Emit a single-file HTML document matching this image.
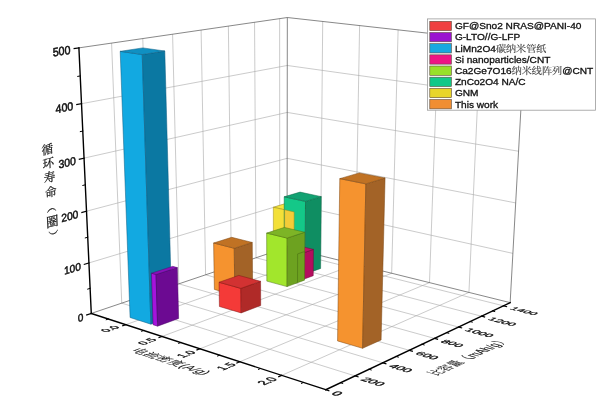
<!DOCTYPE html>
<html><head><meta charset="utf-8"><title>3D bar chart</title>
<style>
html,body{margin:0;padding:0;background:#fff;}
svg{display:block;}
</style></head><body>
<svg width="600" height="404" viewBox="0 0 600 404">
<rect width="600" height="404" fill="#fff"/>
<g id="grid" fill="none">
<line x1="121.74" y1="303.14" x2="111.59" y2="43.11" stroke="#a8a8a8" stroke-width="0.6"/>
<line x1="150.9" y1="293.29" x2="142.79" y2="38.57" stroke="#a8a8a8" stroke-width="0.6"/>
<line x1="178.83" y1="283.85" x2="172.59" y2="34.23" stroke="#a8a8a8" stroke-width="0.6"/>
<line x1="205.62" y1="274.8" x2="201.1" y2="30.08" stroke="#a8a8a8" stroke-width="0.6"/>
<line x1="231.33" y1="266.12" x2="228.39" y2="26.1" stroke="#a8a8a8" stroke-width="0.6"/>
<line x1="256.02" y1="257.77" x2="254.55" y2="22.29" stroke="#a8a8a8" stroke-width="0.6"/>
<line x1="279.76" y1="249.76" x2="279.63" y2="18.64" stroke="#a8a8a8" stroke-width="0.6"/>
<line x1="88.93" y1="262.94" x2="287.11" y2="203.28" stroke="#a8a8a8" stroke-width="0.6"/>
<line x1="86.52" y1="211.19" x2="287.16" y2="158.33" stroke="#a8a8a8" stroke-width="0.6"/>
<line x1="84.05" y1="158.13" x2="287.22" y2="112.41" stroke="#a8a8a8" stroke-width="0.6"/>
<line x1="81.51" y1="103.71" x2="287.27" y2="65.48" stroke="#a8a8a8" stroke-width="0.6"/>
<line x1="320.53" y1="255.6" x2="322.71" y2="21.46" stroke="#a8a8a8" stroke-width="0.6"/>
<line x1="355.37" y1="264.24" x2="359.6" y2="25.57" stroke="#a8a8a8" stroke-width="0.6"/>
<line x1="391.66" y1="273.24" x2="398.12" y2="29.86" stroke="#a8a8a8" stroke-width="0.6"/>
<line x1="429.49" y1="282.63" x2="438.36" y2="34.35" stroke="#a8a8a8" stroke-width="0.6"/>
<line x1="468.95" y1="292.42" x2="480.46" y2="39.04" stroke="#a8a8a8" stroke-width="0.6"/>
<line x1="287.11" y1="203.28" x2="512.89" y2="253.39" stroke="#a8a8a8" stroke-width="0.6"/>
<line x1="287.16" y1="158.33" x2="515.69" y2="202.93" stroke="#a8a8a8" stroke-width="0.6"/>
<line x1="287.22" y1="112.41" x2="518.57" y2="151.24" stroke="#a8a8a8" stroke-width="0.6"/>
<line x1="287.27" y1="65.48" x2="521.51" y2="98.26" stroke="#a8a8a8" stroke-width="0.6"/>
<line x1="125.82" y1="324.67" x2="320.53" y2="255.6" stroke="#a8a8a8" stroke-width="0.6"/>
<line x1="162.01" y1="336.44" x2="355.37" y2="264.24" stroke="#a8a8a8" stroke-width="0.6"/>
<line x1="199.96" y1="348.79" x2="391.66" y2="273.24" stroke="#a8a8a8" stroke-width="0.6"/>
<line x1="239.8" y1="361.75" x2="429.49" y2="282.63" stroke="#a8a8a8" stroke-width="0.6"/>
<line x1="281.69" y1="375.38" x2="468.95" y2="292.42" stroke="#a8a8a8" stroke-width="0.6"/>
<line x1="121.74" y1="303.14" x2="355.01" y2="375.92" stroke="#a8a8a8" stroke-width="0.6"/>
<line x1="150.9" y1="293.29" x2="382.79" y2="362.8" stroke="#a8a8a8" stroke-width="0.6"/>
<line x1="178.83" y1="283.85" x2="409.24" y2="350.3" stroke="#a8a8a8" stroke-width="0.6"/>
<line x1="205.62" y1="274.8" x2="434.45" y2="338.4" stroke="#a8a8a8" stroke-width="0.6"/>
<line x1="231.33" y1="266.12" x2="458.5" y2="327.04" stroke="#a8a8a8" stroke-width="0.6"/>
<line x1="256.02" y1="257.77" x2="481.46" y2="316.19" stroke="#a8a8a8" stroke-width="0.6"/>
<line x1="279.76" y1="249.76" x2="503.43" y2="305.82" stroke="#a8a8a8" stroke-width="0.6"/>
</g>
<g id="walls" fill="none">
<line x1="78.91" y1="47.87" x2="287.33" y2="17.52" stroke="#555" stroke-width="0.7"/>
<line x1="287.33" y1="17.52" x2="524.53" y2="43.95" stroke="#555" stroke-width="0.7"/>
<line x1="524.53" y1="43.95" x2="510.15" y2="302.64" stroke="#555" stroke-width="0.7"/>
<line x1="287.33" y1="17.52" x2="287.05" y2="247.29" stroke="#555" stroke-width="0.7"/>
<line x1="91.28" y1="313.43" x2="287.05" y2="247.29" stroke="#555" stroke-width="0.7"/>
<line x1="287.05" y1="247.29" x2="510.15" y2="302.64" stroke="#555" stroke-width="0.7"/>
</g>
<g id="bars">
<g id="blue">
<polygon points="130.08,317.52 150.89,324.18 142.24,54.56 120.19,51.34" fill="#12a9e1" stroke="#0a5a80" stroke-width="0.5" stroke-linejoin="round"/>
<polygon points="150.89,324.18 171.95,316.58 164.8,51 142.24,54.56" fill="#0b78a2" stroke="#0a5a80" stroke-width="0.5" stroke-linejoin="round"/>
<polygon points="120.19,51.34 142.24,54.56 164.8,51 142.81,47.88" fill="#1090c2" stroke="#0a5a80" stroke-width="0.5" stroke-linejoin="round"/>
</g>
<g id="purple">
<polygon points="153.05,324.72 157.6,326.17 156.02,274.51 151.43,273.19" fill="#a514dc" stroke="#4a0666" stroke-width="0.5" stroke-linejoin="round"/>
<polygon points="157.6,326.17 178.63,318.51 177.35,267.58 156.02,274.51" fill="#6c0a92" stroke="#4a0666" stroke-width="0.5" stroke-linejoin="round"/>
<polygon points="151.43,273.19 156.02,274.51 177.35,267.58 172.76,266.3" fill="#8a10b8" stroke="#4a0666" stroke-width="0.4" stroke-linejoin="round"/>
</g>
<g id="orange1">
<polygon points="214.38,289.42 234.81,295.26 234.27,248.29 213.61,242.99" fill="#f5932f" stroke="#7a4410" stroke-width="0.5" stroke-linejoin="round"/>
<polygon points="234.81,295.26 252.61,288.81 252.28,242.45 234.27,248.29" fill="#a36327" stroke="#7a4410" stroke-width="0.5" stroke-linejoin="round"/>
<polygon points="213.61,242.99 234.27,248.29 252.28,242.45 231.69,237.3" fill="#c07224" stroke="#7a4410" stroke-width="0.5" stroke-linejoin="round"/>
</g>
<g id="red">
<polygon points="219.42,306.49 241.15,312.91 240.9,288.38 219.05,282.26" fill="#f43a38" stroke="#801616" stroke-width="0.5" stroke-linejoin="round"/>
<polygon points="241.15,312.91 260.7,305.51 260.58,281.33 240.9,288.38" fill="#b02a28" stroke="#801616" stroke-width="0.5" stroke-linejoin="round"/>
<polygon points="219.05,282.26 240.9,288.38 260.58,281.33 238.81,275.39" fill="#d23232" stroke="#801616" stroke-width="0.5" stroke-linejoin="round"/>
</g>
<g id="yellow">
<polygon points="273.34,207.22 294.14,211.93 311.86,206.43 291.15,201.86" fill="#f5e440" stroke="#9a8a18" stroke-width="0.5" stroke-linejoin="round"/>
<polygon points="273.46,266.63 284.58,269.54 284.62,209.77 273.34,207.22" fill="#f3e038" stroke="#9a8a18" stroke-width="0.5" stroke-linejoin="round"/>
</g>
<g id="teal">
<polygon points="284.17,268.67 305.12,274.14 305.52,201.43 284.21,196.78" fill="#14c888" stroke="#0a6444" stroke-width="0.5" stroke-linejoin="round"/>
<polygon points="305.12,274.14 320.62,268.47 321.29,196.64 305.52,201.43" fill="#0f8e62" stroke="#0a6444" stroke-width="0.5" stroke-linejoin="round"/>
<polygon points="284.21,196.78 305.52,201.43 321.29,196.64 300.06,192.1" fill="#12a272" stroke="#0a6444" stroke-width="0.5" stroke-linejoin="round"/>
</g>
<g id="yellow2">
<polygon points="284.58,269.54 293.97,272 294.14,211.93 284.62,209.77" fill="#f3cc38" stroke="#9a8a18" stroke-width="0.5" stroke-linejoin="round"/>
</g>
<g id="magenta">
<polygon points="276.25,276.28 296.83,281.77 296.92,255.15 276.21,249.94" fill="#ee1484" stroke="#700838" stroke-width="0.5" stroke-linejoin="round"/>
<polygon points="296.83,281.77 313.24,275.71 313.44,249.41 296.92,255.15" fill="#b40e5e" stroke="#700838" stroke-width="0.5" stroke-linejoin="round"/>
<polygon points="276.21,249.94 296.92,255.15 313.44,249.41 292.81,244.35" fill="#c41268" stroke="#700838" stroke-width="0.5" stroke-linejoin="round"/>
</g>
<g id="lgreen">
<polygon points="266.82,281.12 287.08,286.62 287.14,238.07 266.64,233.09" fill="#a2e62c" stroke="#4a7012" stroke-width="0.5" stroke-linejoin="round"/>
<polygon points="287.08,286.62 304.52,280.16 304.78,232.24 287.14,238.07" fill="#6da220" stroke="#4a7012" stroke-width="0.5" stroke-linejoin="round"/>
<polygon points="266.64,233.09 287.14,238.07 304.78,232.24 284.37,227.41" fill="#7db426" stroke="#4a7012" stroke-width="0.5" stroke-linejoin="round"/>
<polyline points="297.5,282.76 297.6,253.94 304.68,251.49" fill="none" stroke="#4a7012" stroke-width="0.6"/>
</g>
<g id="orange2">
<polygon points="337.56,340.93 362.58,348.31 365.85,183.88 339.77,178.64" fill="#f5932f" stroke="#7a4410" stroke-width="0.5" stroke-linejoin="round"/>
<polygon points="362.58,348.31 381.12,339.96 385.07,178.02 365.85,183.88" fill="#a36327" stroke="#7a4410" stroke-width="0.5" stroke-linejoin="round"/>
<polygon points="339.77,178.64 365.85,183.88 385.07,178.02 359.16,172.95" fill="#c07224" stroke="#7a4410" stroke-width="0.5" stroke-linejoin="round"/>
</g>
</g>
<g id="axes" fill="none" stroke-linecap="square">
<line x1="91.28" y1="313.43" x2="325.79" y2="389.72" stroke="#000" stroke-width="1.4"/>
<line x1="325.79" y1="389.72" x2="510.15" y2="302.64" stroke="#000" stroke-width="1.4"/>
<line x1="91.28" y1="313.43" x2="78.91" y2="47.87" stroke="#000" stroke-width="1.4"/>
<line x1="108.35" y1="318.99" x2="106.27" y2="319.71" stroke="#000" stroke-width="1.0"/>
<line x1="125.82" y1="324.67" x2="122.8" y2="325.74" stroke="#000" stroke-width="1.2"/>
<line x1="143.7" y1="330.49" x2="141.63" y2="331.24" stroke="#000" stroke-width="1.0"/>
<line x1="162.01" y1="336.44" x2="159.01" y2="337.56" stroke="#000" stroke-width="1.2"/>
<line x1="180.75" y1="342.54" x2="178.7" y2="343.33" stroke="#000" stroke-width="1.0"/>
<line x1="199.96" y1="348.79" x2="196.98" y2="349.96" stroke="#000" stroke-width="1.2"/>
<line x1="219.63" y1="355.19" x2="217.59" y2="356.01" stroke="#000" stroke-width="1.0"/>
<line x1="239.8" y1="361.75" x2="236.85" y2="362.98" stroke="#000" stroke-width="1.2"/>
<line x1="260.48" y1="368.48" x2="258.46" y2="369.35" stroke="#000" stroke-width="1.0"/>
<line x1="281.69" y1="375.38" x2="278.77" y2="376.67" stroke="#000" stroke-width="1.2"/>
<line x1="303.45" y1="382.46" x2="301.45" y2="383.37" stroke="#000" stroke-width="1.0"/>
<line x1="325.79" y1="389.72" x2="328.83" y2="390.71" stroke="#000" stroke-width="1.2"/>
<line x1="340.58" y1="382.73" x2="342.68" y2="383.4" stroke="#000" stroke-width="1.0"/>
<line x1="355.01" y1="375.92" x2="358.06" y2="376.87" stroke="#000" stroke-width="1.2"/>
<line x1="369.08" y1="369.28" x2="371.18" y2="369.92" stroke="#000" stroke-width="1.0"/>
<line x1="382.79" y1="362.8" x2="385.86" y2="363.71" stroke="#000" stroke-width="1.2"/>
<line x1="396.18" y1="356.47" x2="398.29" y2="357.09" stroke="#000" stroke-width="1.0"/>
<line x1="409.24" y1="350.3" x2="412.32" y2="351.19" stroke="#000" stroke-width="1.2"/>
<line x1="421.99" y1="344.28" x2="424.11" y2="344.88" stroke="#000" stroke-width="1.0"/>
<line x1="434.45" y1="338.4" x2="437.53" y2="339.26" stroke="#000" stroke-width="1.2"/>
<line x1="446.61" y1="332.65" x2="448.73" y2="333.23" stroke="#000" stroke-width="1.0"/>
<line x1="458.5" y1="327.04" x2="461.59" y2="327.87" stroke="#000" stroke-width="1.2"/>
<line x1="470.11" y1="321.56" x2="472.24" y2="322.12" stroke="#000" stroke-width="1.0"/>
<line x1="481.46" y1="316.19" x2="484.56" y2="317" stroke="#000" stroke-width="1.2"/>
<line x1="492.57" y1="310.95" x2="494.7" y2="311.49" stroke="#000" stroke-width="1.0"/>
<line x1="503.43" y1="305.82" x2="506.53" y2="306.6" stroke="#000" stroke-width="1.2"/>
<line x1="91.28" y1="313.43" x2="86.73" y2="314.97" stroke="#000" stroke-width="1.2"/>
<line x1="90.11" y1="288.34" x2="87.73" y2="289.1" stroke="#000" stroke-width="1.0"/>
<line x1="88.93" y1="262.94" x2="84.33" y2="264.32" stroke="#000" stroke-width="1.2"/>
<line x1="87.73" y1="237.23" x2="85.32" y2="237.9" stroke="#000" stroke-width="1.0"/>
<line x1="86.52" y1="211.19" x2="81.88" y2="212.41" stroke="#000" stroke-width="1.2"/>
<line x1="85.29" y1="184.82" x2="82.86" y2="185.42" stroke="#000" stroke-width="1.0"/>
<line x1="84.05" y1="158.13" x2="79.36" y2="159.18" stroke="#000" stroke-width="1.2"/>
<line x1="82.79" y1="131.09" x2="80.34" y2="131.59" stroke="#000" stroke-width="1.0"/>
<line x1="81.51" y1="103.71" x2="76.79" y2="104.58" stroke="#000" stroke-width="1.2"/>
<line x1="80.22" y1="75.97" x2="77.75" y2="76.38" stroke="#000" stroke-width="1.0"/>
<line x1="78.91" y1="47.87" x2="74.16" y2="48.57" stroke="#000" stroke-width="1.2"/>
</g>
<g id="labels">
<text transform="matrix(1.0117,-0.3589,0.9437,0.3070,110.00,329.00)" font-family="'Liberation Sans',sans-serif" font-size="10" text-anchor="middle" y="3.50" fill="#111" stroke="#111" stroke-width="0.45">0.0</text>
<text transform="matrix(1.0081,-0.3764,0.9891,0.3218,147.00,341.40)" font-family="'Liberation Sans',sans-serif" font-size="10" text-anchor="middle" y="3.50" fill="#111" stroke="#111" stroke-width="0.45">0.5</text>
<text transform="matrix(1.0030,-0.3952,1.0380,0.3377,186.00,354.00)" font-family="'Liberation Sans',sans-serif" font-size="10" text-anchor="middle" y="3.50" fill="#111" stroke="#111" stroke-width="0.45">1.0</text>
<text transform="matrix(0.9962,-0.4155,1.0905,0.3548,226.00,366.40)" font-family="'Liberation Sans',sans-serif" font-size="10" text-anchor="middle" y="3.50" fill="#111" stroke="#111" stroke-width="0.45">1.5</text>
<text transform="matrix(0.9873,-0.4374,1.1471,0.3732,267.00,381.00)" font-family="'Liberation Sans',sans-serif" font-size="10" text-anchor="middle" y="3.50" fill="#111" stroke="#111" stroke-width="0.45">2.0</text>
<text transform="matrix(1.2083,0.3931,-0.9760,0.4610,333.89,392.40)" font-family="'Liberation Sans',sans-serif" font-size="10" text-anchor="start" y="3.50" fill="#111" stroke="#111" stroke-width="0.45">0</text>
<text transform="matrix(1.1978,0.3737,-0.9273,0.4380,363.15,378.50)" font-family="'Liberation Sans',sans-serif" font-size="10" text-anchor="start" y="3.50" fill="#111" stroke="#111" stroke-width="0.45">200</text>
<text transform="matrix(1.1868,0.3557,-0.8822,0.4167,390.96,365.29)" font-family="'Liberation Sans',sans-serif" font-size="10" text-anchor="start" y="3.50" fill="#111" stroke="#111" stroke-width="0.45">400</text>
<text transform="matrix(1.1755,0.3390,-0.8402,0.3969,417.43,352.72)" font-family="'Liberation Sans',sans-serif" font-size="10" text-anchor="start" y="3.50" fill="#111" stroke="#111" stroke-width="0.45">600</text>
<text transform="matrix(1.1639,0.3235,-0.8012,0.3784,442.65,340.74)" font-family="'Liberation Sans',sans-serif" font-size="10" text-anchor="start" y="3.50" fill="#111" stroke="#111" stroke-width="0.45">800</text>
<text transform="matrix(1.1522,0.3090,-0.7649,0.3613,466.72,329.31)" font-family="'Liberation Sans',sans-serif" font-size="10" text-anchor="start" y="3.50" fill="#111" stroke="#111" stroke-width="0.45">1000</text>
<text transform="matrix(1.1403,0.2955,-0.7309,0.3452,489.71,318.40)" font-family="'Liberation Sans',sans-serif" font-size="10" text-anchor="start" y="3.50" fill="#111" stroke="#111" stroke-width="0.45">1200</text>
<text transform="matrix(1.1283,0.2828,-0.6992,0.3303,511.69,307.96)" font-family="'Liberation Sans',sans-serif" font-size="10" text-anchor="start" y="3.50" fill="#111" stroke="#111" stroke-width="0.45">1400</text>
<text transform="matrix(0.9911,-0.3348,0.0489,1.0503,83.23,316.75)" font-family="'Liberation Sans',sans-serif" font-size="10" text-anchor="end" y="3.50" fill="#111" stroke="#111" stroke-width="0.45">0</text>
<text transform="matrix(1.0050,-0.3026,0.0501,1.0764,80.79,265.99)" font-family="'Liberation Sans',sans-serif" font-size="10" text-anchor="end" y="3.50" fill="#111" stroke="#111" stroke-width="0.45">100</text>
<text transform="matrix(1.0193,-0.2685,0.0514,1.1034,78.30,213.95)" font-family="'Liberation Sans',sans-serif" font-size="10" text-anchor="end" y="3.50" fill="#111" stroke="#111" stroke-width="0.45">200</text>
<text transform="matrix(1.0340,-0.2327,0.0527,1.1315,75.75,160.59)" font-family="'Liberation Sans',sans-serif" font-size="10" text-anchor="end" y="3.50" fill="#111" stroke="#111" stroke-width="0.45">300</text>
<text transform="matrix(1.0492,-0.1949,0.0541,1.1607,73.15,105.86)" font-family="'Liberation Sans',sans-serif" font-size="10" text-anchor="end" y="3.50" fill="#111" stroke="#111" stroke-width="0.45">400</text>
<text transform="matrix(1.0648,-0.1551,0.0555,1.1910,70.50,49.70)" font-family="'Liberation Sans',sans-serif" font-size="10" text-anchor="end" y="3.50" fill="#111" stroke="#111" stroke-width="0.45">500</text>
<text transform="matrix(1.2008,0.3907,-1.1985,0.4571,171.00,361.50)" font-family="'Liberation Serif','Noto Serif CJK SC',serif" font-size="10" text-anchor="middle" y="3.50" fill="#111" stroke="#222" stroke-width="0.12">电流密度<tspan font-family="'Liberation Sans',sans-serif">(A/g)</tspan></text>
<text transform="matrix(0.9532,-0.4502,1.3859,0.3849,469.00,357.00)" font-family="'Liberation Serif','Noto Serif CJK SC',serif" font-size="10" text-anchor="middle" y="3.50" fill="#111" stroke="#222" stroke-width="0.12">比容量（<tspan font-family="'Liberation Sans',sans-serif">mAh/g</tspan>）</text>
<text transform="matrix(1.1564,-0.2826,0.0563,1.2079,47.30,149.50)" font-family="'Liberation Serif','Noto Serif CJK SC',serif" font-size="10" text-anchor="middle" y="3.50" fill="#111" stroke="#222" stroke-width="0.2">循</text>
<text transform="matrix(1.1564,-0.2826,0.0563,1.2079,48.40,163.40)" font-family="'Liberation Serif','Noto Serif CJK SC',serif" font-size="10" text-anchor="middle" y="3.50" fill="#111" stroke="#222" stroke-width="0.2">环</text>
<text transform="matrix(1.1564,-0.2826,0.0563,1.2079,49.50,177.30)" font-family="'Liberation Serif','Noto Serif CJK SC',serif" font-size="10" text-anchor="middle" y="3.50" fill="#111" stroke="#222" stroke-width="0.2">寿</text>
<text transform="matrix(1.1564,-0.2826,0.0563,1.2079,50.70,192.00)" font-family="'Liberation Serif','Noto Serif CJK SC',serif" font-size="10" text-anchor="middle" y="3.50" fill="#111" stroke="#222" stroke-width="0.2">命</text>
<text transform="matrix(0.9440,-0.2307,0.0563,1.2079,51.60,206.80)" font-family="'Liberation Serif','Noto Serif CJK SC',serif" font-size="10" text-anchor="middle" y="3.50" fill="#111" stroke="#222" stroke-width="0.2">︵</text>
<text transform="matrix(1.2508,-0.3056,0.0605,1.2985,52.40,221.70)" font-family="'Liberation Serif','Noto Serif CJK SC',serif" font-size="10" text-anchor="middle" y="3.50" fill="#111" stroke="#222" stroke-width="0.2">圈</text>
<text transform="matrix(0.9440,-0.2307,0.0563,1.2079,53.60,236.40)" font-family="'Liberation Serif','Noto Serif CJK SC',serif" font-size="10" text-anchor="middle" y="3.50" fill="#111" stroke="#222" stroke-width="0.2">︶</text>
</g>
<g id="legend">
<rect x="427.5" y="18.9" width="168.1" height="91.3" fill="#fff" stroke="#9a9a9a" stroke-width="0.8"/>
<rect x="429.8" y="21.30" width="21.6" height="9.3" fill="#f04040" stroke="#5a4a3a" stroke-width="0.6"/>
<text transform="translate(454.9,29.20) scale(1.1,1)" font-family="'Liberation Sans','Noto Sans CJK SC',sans-serif" font-size="9.2" fill="#111" stroke="#111" stroke-width="0.3">GF@Sno2 NRAS@PANI-40</text>
<rect x="429.8" y="32.48" width="21.6" height="9.3" fill="#9a14d0" stroke="#5a4a3a" stroke-width="0.6"/>
<text transform="translate(454.9,40.40) scale(1.1,1)" font-family="'Liberation Sans','Noto Sans CJK SC',sans-serif" font-size="9.2" fill="#111" stroke="#111" stroke-width="0.3">G-LTO//G-LFP</text>
<rect x="429.8" y="43.66" width="21.6" height="9.3" fill="#18a8e0" stroke="#5a4a3a" stroke-width="0.6"/>
<text transform="translate(454.9,51.60) scale(1.1,1)" font-family="'Liberation Sans','Noto Sans CJK SC',sans-serif" font-size="9.2" fill="#111" stroke="#111" stroke-width="0.3">LiMn2O4<tspan font-family="'Liberation Serif','Noto Serif CJK SC',serif" fill="#444" stroke="#444" stroke-width="0.15">碳纳米管纸</tspan></text>
<rect x="429.8" y="54.84" width="21.6" height="9.3" fill="#ee1484" stroke="#5a4a3a" stroke-width="0.6"/>
<text transform="translate(454.9,62.80) scale(1.1,1)" font-family="'Liberation Sans','Noto Sans CJK SC',sans-serif" font-size="9.2" fill="#111" stroke="#111" stroke-width="0.3">Si nanoparticles/CNT</text>
<rect x="429.8" y="66.02" width="21.6" height="9.3" fill="#98e02a" stroke="#5a4a3a" stroke-width="0.6"/>
<text transform="translate(454.9,74.00) scale(1.1,1)" font-family="'Liberation Sans','Noto Sans CJK SC',sans-serif" font-size="9.2" fill="#111" stroke="#111" stroke-width="0.3">Ca2Ge7O16<tspan font-family="'Liberation Serif','Noto Serif CJK SC',serif" fill="#444" stroke="#444" stroke-width="0.15">纳米线阵列</tspan>@CNT</text>
<rect x="429.8" y="77.20" width="21.6" height="9.3" fill="#12c888" stroke="#5a4a3a" stroke-width="0.6"/>
<text transform="translate(454.9,85.20) scale(1.1,1)" font-family="'Liberation Sans','Noto Sans CJK SC',sans-serif" font-size="9.2" fill="#111" stroke="#111" stroke-width="0.3">ZnCo2O4 NA/C</text>
<rect x="429.8" y="88.38" width="21.6" height="9.3" fill="#e8d52a" stroke="#5a4a3a" stroke-width="0.6"/>
<text transform="translate(454.9,96.40) scale(1.1,1)" font-family="'Liberation Sans','Noto Sans CJK SC',sans-serif" font-size="9.2" fill="#111" stroke="#111" stroke-width="0.3">GNM</text>
<rect x="429.8" y="99.56" width="21.6" height="9.3" fill="#f08e32" stroke="#5a4a3a" stroke-width="0.6"/>
<text transform="translate(454.9,107.60) scale(1.1,1)" font-family="'Liberation Sans','Noto Sans CJK SC',sans-serif" font-size="9.2" fill="#111" stroke="#111" stroke-width="0.3">This work</text>
</g>
</svg>
</body></html>
